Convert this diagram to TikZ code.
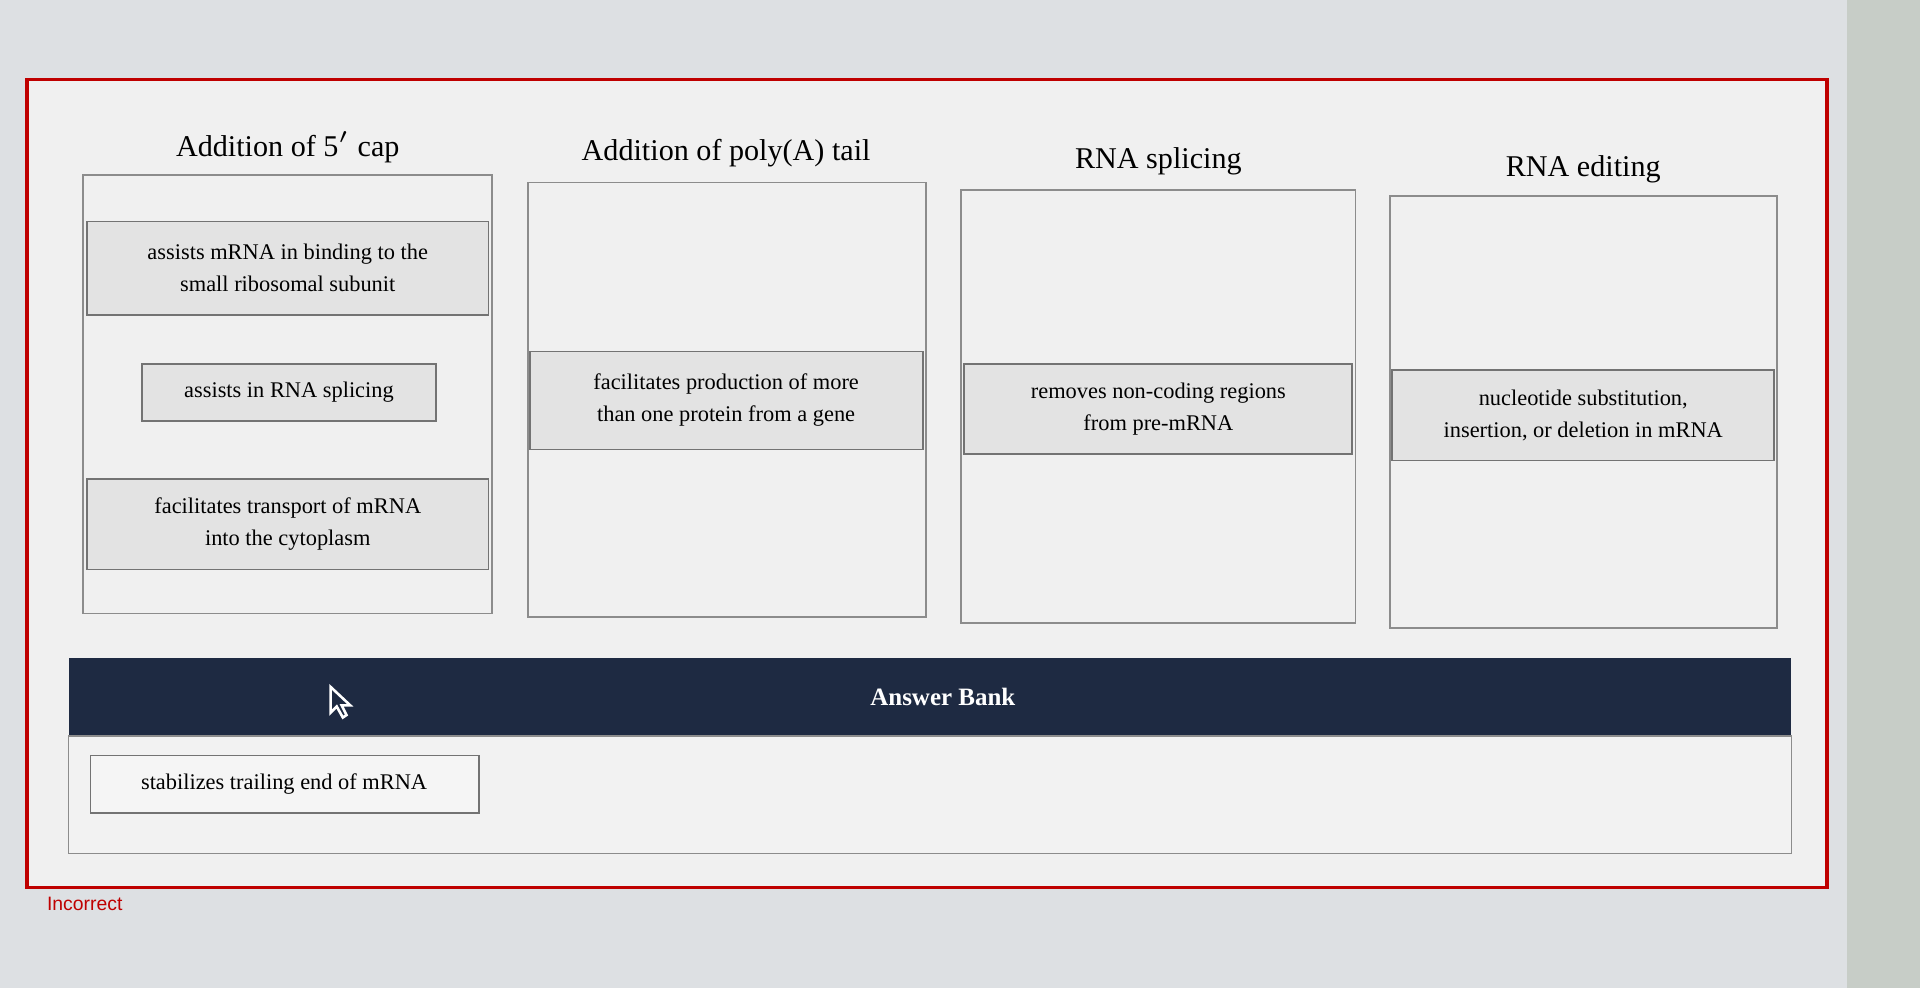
\documentclass[tikz,border=0pt]{standalone}
\usepackage{fontspec}
\setmainfont{Liberation Serif}
\newfontfamily\uisans{Liberation Sans}
\definecolor{navy}{HTML}{1E2A42}
\definecolor{bgg}{HTML}{DDE0E3}
\begin{document}
\begin{tikzpicture}[x=0.01cm,y=-0.01cm,
  col/.style={draw=black!45,line width=0.4pt,fill=black!6},
  card/.style={draw=black!55,line width=0.4pt,fill=black!11},
  hdr/.style={font=\fontsize{7}{8}\selectfont,anchor=center},
  ctext/.style={font=\fontsize{5.2}{7.4}\selectfont,align=center,anchor=center}]
\fill[bgg] (0,0) rectangle (1568,807);
\fill[green!10!black!22] (1508,0) rectangle (1568,807);
\fill[black!6] (22,65) rectangle (1492,725);
\draw[red!75!black,line width=0.8pt] (22,65) rectangle (1492,725);
\node[hdr] (h1) at (235,120) {Addition of 5$'$ cap};
\node[hdr] (h2) at (593,125) {Addition of poly(A) tail};
\node[hdr] (h3) at (946,132) {RNA splicing};
\node[hdr] (h4) at (1293,138) {RNA editing};
\draw[col] (68,143) rectangle (402,501);
\draw[col] (431,149) rectangle (756,504);
\draw[col] (785,155) rectangle (1107,509);
\draw[col] (1135,160) rectangle (1451,513);
\draw[card] (71,181) rectangle (399,257); \node[ctext] (c1) at (235,219) {assists mRNA in binding to the\\small ribosomal subunit};
\draw[card] (116,297) rectangle (356,344); \node[ctext] (c2) at (236,320) {assists in RNA splicing};
\draw[card] (71,391) rectangle (399,465); \node[ctext] (c3) at (235,428) {facilitates transport of mRNA\\into the cytoplasm};
\draw[card] (433,287) rectangle (754,367); \node[ctext] (c4) at (593,327) {facilitates production of more\\than one protein from a gene};
\draw[card] (787,297) rectangle (1104,371); \node[ctext] (c5) at (946,334) {removes non-coding regions\\from pre-mRNA};
\draw[card] (1137,302) rectangle (1449,376); \node[ctext] (c6) at (1293,339) {nucleotide substitution,\\insertion, or deletion in mRNA};
\fill[navy] (56,537) rectangle (1463,601);
\node[font=\fontsize{5.8}{7}\selectfont\bfseries,text=white] (ab) at (770,569) {Answer Bank};
\draw[black!45,fill=black!5] (56,601) rectangle (1463,697);
\draw[card,fill=black!4] (74,617) rectangle (391,664); \node[ctext] (c7) at (232,640) {stabilizes trailing end of mRNA};
\draw[white,fill=navy,line width=0.6pt] (270,561) -- (270,582) -- (275,577) -- (280,586) -- (283,584) -- (279,576) -- (286,576) -- cycle;
\node[font=\uisans\fontsize{4.5}{6}\selectfont,text=red!75!black,anchor=west] (inc) at (26,738) {Incorrect};
\end{tikzpicture}
\end{document}
